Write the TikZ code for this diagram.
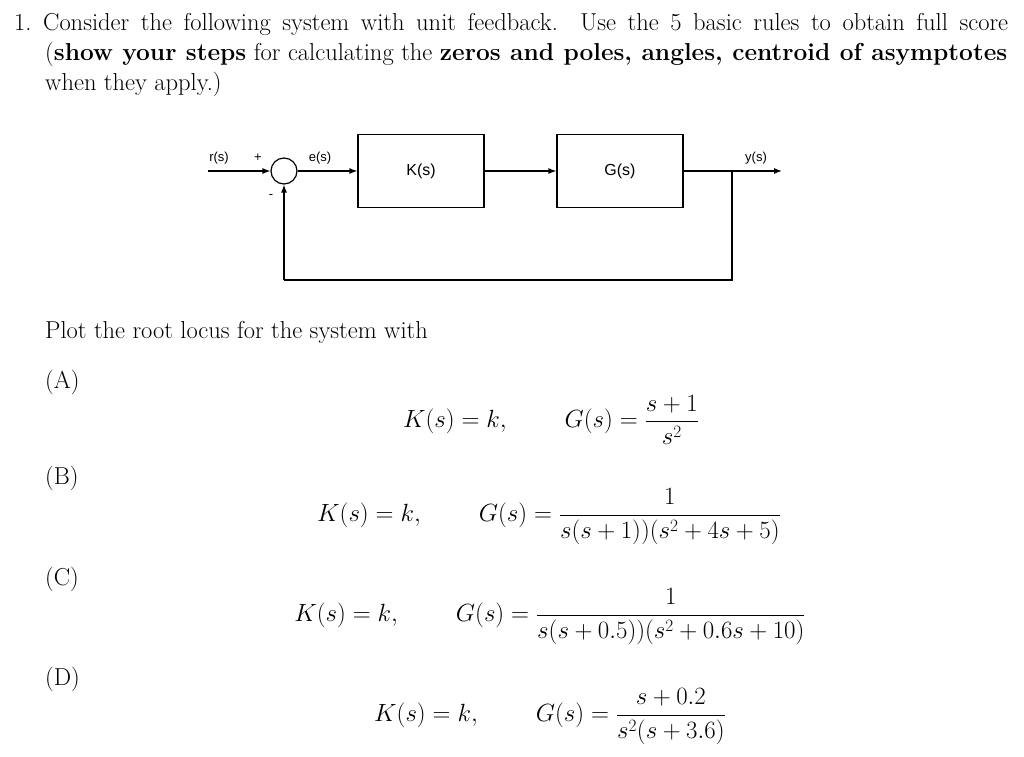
\documentclass[tikz,border=0pt]{standalone}
\usepackage{amsmath}
\usepackage{fontspec}
\newfontfamily\hv{Liberation Sans}
\usetikzlibrary{arrows.meta}
\begin{document}
\begin{tikzpicture}[x=1pt,y=-1pt,
  txt/.style={anchor=base west,inner sep=0pt,font=\fontsize{24.5}{30}\selectfont},
  eq/.style={anchor=center,inner sep=0pt,font=\fontsize{24.5}{30}\selectfont},
  lab/.style={inner sep=0pt,font=\hv\fontsize{13}{15}\selectfont},
  blk/.style={draw,line width=1.2pt,minimum width=126pt,minimum height=73pt,font=\hv\fontsize{16}{18}\selectfont},
  sig/.style={line width=1.2pt,-{Latex[length=8pt,width=6pt]}},
  wire/.style={line width=1.2pt}]
\useasboundingbox (0,0) rectangle (1024,756);
\node[txt] (l1) at (14,30) {\hbox to 994pt{1.\ Consider the following system with unit feedback. Use the 5 basic rules to obtain full score}};
\node[txt] (l2) at (45,60) {\hbox to 962pt{(\textbf{show your steps} for calculating the \textbf{zeros and poles, angles, centroid of asymptotes}}};
\node[txt] (l3) at (45,90) {when they apply.)};
% block diagram
\coordinate (rin) at (208,171);
\node[draw,circle,line width=1.2pt,minimum size=26pt,inner sep=0pt] (sum) at (284,171) {};
\node[blk] (K) at (421,171) {K(s)};
\node[blk] (G) at (620,171) {G(s)};
\coordinate (out) at (782,171);
\coordinate (br) at (732,171);
\coordinate (c1) at (732,280);
\coordinate (c2) at (284,280);
\draw[sig] (rin) -- (sum);
\draw[sig] (sum) -- (K);
\draw[sig] (K) -- (G);
\draw[sig] (G.east) -- (out);
\draw[wire] (br) -- (c1) -- (c2);
\draw[sig] (c2) -- (sum);
\node[lab] (lr) at (219,158) {r(s)};
\node[lab] (lp) at (258,158) {+};
\node[lab] (le) at (320,158) {e(s)};
\node[lab] (ly) at (756,158) {y(s)};
\node[lab] (lm) at (271,197) {-};
\node[txt] (pl) at (45,338) {Plot the root locus for the system with};
\node[txt] (A) at (45,388) {(A)};
\node[eq] (eA) at (551,420) {$K(s)=k,\hspace{2.2em}G(s)=\dfrac{s+1}{s^2}$};
\node[txt] (B) at (45,484) {(B)};
\node[eq] (eB) at (549,517) {$K(s)=k,\hspace{2.2em}G(s)=\dfrac{1}{s(s+1))(s^2+4s+5)}$};
\node[txt] (C) at (45,585) {(C)};
\node[eq] (eC) at (550,617) {$K(s)=k,\hspace{2.2em}G(s)=\dfrac{1}{s(s+0.5))(s^2+0.6s+10)}$};
\node[txt] (D) at (45,685) {(D)};
\node[eq] (eD) at (550,717) {$K(s)=k,\hspace{2.2em}G(s)=\dfrac{s+0.2}{s^2(s+3.6)}$};
\end{tikzpicture}
\end{document}
